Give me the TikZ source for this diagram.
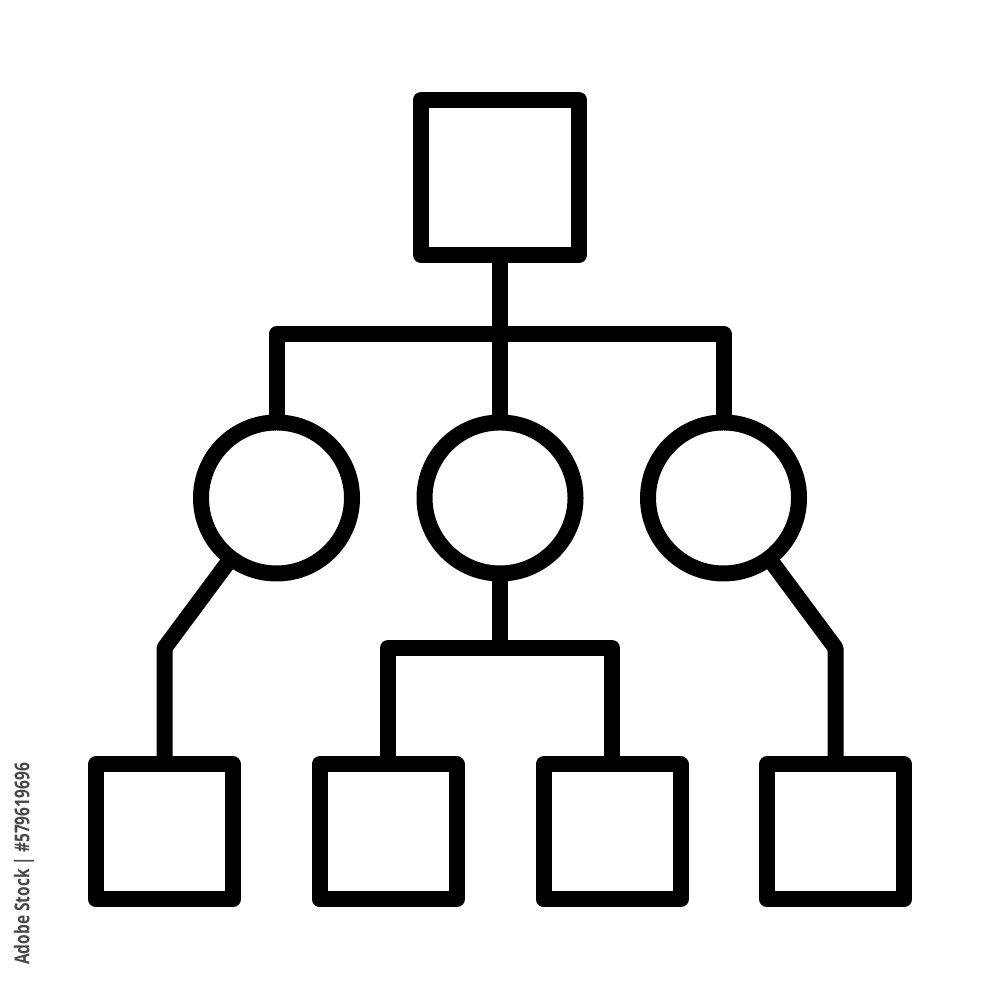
\documentclass[tikz,border=0pt]{standalone}
\usepackage{fontspec}
\newfontfamily\wmfont{Open Sans}
\begin{document}
\begin{tikzpicture}[line width=0.16cm, line join=round,
  box/.style={draw, rectangle, inner sep=0pt, outer sep=0pt},
  ring/.style={draw, circle, inner sep=0pt, outer sep=0pt, minimum size=1.51cm},
  leaf/.style={box, minimum width=1.37cm, minimum height=1.35cm}]
\useasboundingbox (0,0) rectangle (10,10);

\node [box, minimum width=1.58cm, minimum height=1.55cm] (top) at (5,8.225) {};
\node [ring] (c1) at (2.765,5.02) {};
\node [ring] (c2) at (5,5.02) {};
\node [ring] (c3) at (7.235,5.02) {};
\node [leaf] (b1) at (1.645,1.68) {};
\node [leaf] (b2) at (3.88,1.68) {};
\node [leaf] (b3) at (6.12,1.68) {};
\node [leaf] (b4) at (8.355,1.68) {};

\coordinate (barl) at (2.765,6.66);
\coordinate (barr) at (7.235,6.66);
\coordinate (lowl) at (3.88,3.52);
\coordinate (lowr) at (6.12,3.52);
\coordinate (kinkl) at (1.645,3.52);
\coordinate (kinkr) at (8.355,3.52);

\draw (top.south) -- (c2.north);
\draw (c1.north) -- (barl) -- (barr) -- (c3.north);
\draw (c2.south) -- (c2.south |- lowl);
\draw (b2.north) -- (lowl) -- (lowr) -- (b3.north);
\draw (c1.233) -- (kinkl) -- (b1.north);
\draw (c3.307) -- (kinkr) -- (b4.north);

\node [rotate=90, black!72, inner sep=0pt, font=\wmfont\bfseries\fontsize{5.8}{6}\selectfont] (mark) at (0.24,1.36) {\scalebox{0.76}[1]{Adobe Stock | \#579619696}};
\end{tikzpicture}
\end{document}
